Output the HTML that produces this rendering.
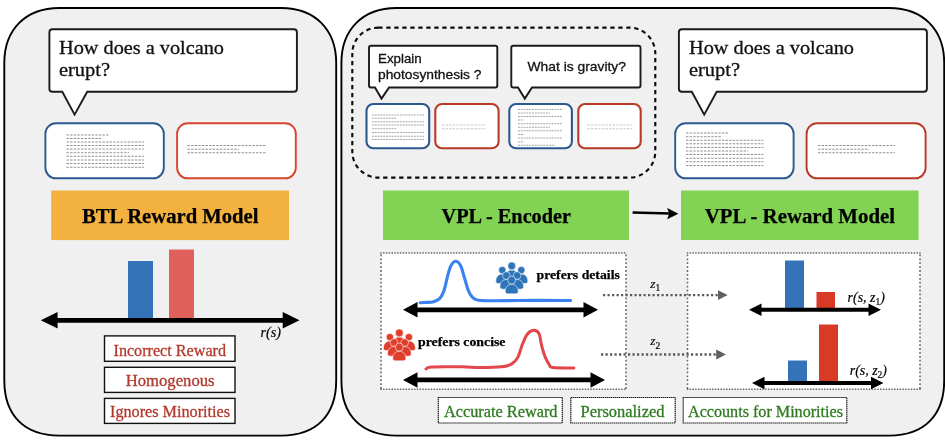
<!DOCTYPE html>
<html lang="en">
<head>
<meta charset="utf-8">
<title>VPL overview diagram</title>
<style>
html,body{margin:0;padding:0;background:#fff;}
body{width:945px;height:441px;overflow:hidden;}
svg{display:block;will-change:transform;}
text{font-family:"Liberation Serif","DejaVu Serif",serif;fill:#111;stroke:#111;stroke-width:0.3px;stroke-linejoin:round;}
.red{fill:#b2392b;stroke:#b2392b;}
.grn{fill:#2e7a20;stroke:#2e7a20;}
.sans{font-family:"Liberation Sans","DejaVu Sans",sans-serif;}
.b{font-weight:bold;fill:#000;stroke:#000;stroke-width:0.25px;}
.i{font-style:italic;fill:#000;stroke:#000;stroke-width:0.18px;}
</style>
</head>
<body>
<svg width="945" height="441" viewBox="0 0 945 441">
<rect width="945" height="441" fill="#fff"/>

<path d="M59.30,8.00 H281.20 C314.75,8.00 336.20,29.45 336.20,63.00 V380.60 C336.20,415.53 316.12,435.60 281.20,435.60 H59.30 C24.38,435.60 4.30,415.53 4.30,380.60 V63.00 C4.30,29.45 25.75,8.00 59.30,8.00 Z" fill="#f0f0f0" stroke="#000" stroke-width="1.9"/>
<path d="M396.40,8.00 H889.20 C922.75,8.00 944.20,29.45 944.20,63.00 V380.60 C944.20,415.53 924.12,435.60 889.20,435.60 H396.40 C361.47,435.60 341.40,415.53 341.40,380.60 V63.00 C341.40,29.45 362.85,8.00 396.40,8.00 Z" fill="#f0f0f0" stroke="#000" stroke-width="1.9"/>
<path d="M52.4,29.2 H293.9 Q296.9,29.2 296.9,32.2 V88.8 Q296.9,91.8 293.9,91.8 H87.2 L74.6,114.6 L62.3,91.8 H52.4 Q49.4,91.8 49.4,88.8 V32.2 Q49.4,29.2 52.4,29.2 Z" fill="#fff" stroke="#1a1a1a" stroke-width="1.9" stroke-linejoin="miter"/>
<text x="59" y="54" font-size="19" textLength="165" lengthAdjust="spacingAndGlyphs">How does a volcano</text>
<text x="59" y="75.6" font-size="19" textLength="51" lengthAdjust="spacingAndGlyphs">erupt?</text>
<rect x="45.4" y="123.3" width="118.4" height="55.000000000000014" rx="10.5" ry="10.5" fill="#fff" stroke="#2b598f" stroke-width="1.9"/>
<g stroke="#909090" stroke-width="1.0" stroke-dasharray="2.4 1.2" fill="none"><line x1="66.5" y1="135" x2="109" y2="135"/><line x1="66.5" y1="138.5" x2="101" y2="138.5"/><line x1="66.5" y1="142" x2="144" y2="142"/><line x1="66.5" y1="145.5" x2="144" y2="145.5"/><line x1="66.5" y1="149" x2="144" y2="149"/><line x1="66.5" y1="152.75" x2="129" y2="152.75"/><line x1="66.5" y1="156.25" x2="144" y2="156.25"/><line x1="66.5" y1="160" x2="144" y2="160"/><line x1="66.5" y1="163.5" x2="144" y2="163.5"/><line x1="66.5" y1="167.25" x2="144" y2="167.25"/></g>
<rect x="177.1" y="123.3" width="118.70000000000002" height="55.000000000000014" rx="10.5" ry="10.5" fill="#fff" stroke="#d9432f" stroke-width="1.9"/>
<g stroke="#909090" stroke-width="1.0" stroke-dasharray="2.4 1.2" fill="none"><line x1="187.5" y1="145.5" x2="265.5" y2="145.5"/><line x1="187.5" y1="149.25" x2="239" y2="149.25"/><line x1="187.5" y1="152.75" x2="265.5" y2="152.75"/></g>
<rect x="51.2" y="190.5" width="237.8" height="49.6" fill="#f3b13f"/>
<text class="b" x="81.9" y="223" font-size="20.5" textLength="176.6" lengthAdjust="spacingAndGlyphs">BTL Reward Model</text>
<rect x="128" y="261" width="25" height="58" fill="#3573b9"/>
<rect x="169" y="249.5" width="25" height="69" fill="#e0605b"/>
<path d="M40.8,320.3 L57.599999999999994,312.1 V317.90000000000003 H282.7 V312.1 L299.5,320.3 L282.7,328.5 V322.7 H57.599999999999994 V328.5 Z" fill="#000"/>
<text class="i" x="260.4" y="336.8" font-size="14" textLength="20.6" lengthAdjust="spacingAndGlyphs">r(s)</text>
<rect x="104.5" y="335.9" width="130.5" height="25.400000000000034" fill="#fff" stroke="#111" stroke-width="1.4"/>
<text x="113.5" y="355.5" font-size="16" class="red" textLength="112.5" lengthAdjust="spacingAndGlyphs">Incorrect Reward</text>
<rect x="104.5" y="367.3" width="130.5" height="25.099999999999966" fill="#fff" stroke="#111" stroke-width="1.4"/>
<text x="125.75" y="386" font-size="16" class="red" textLength="88.75" lengthAdjust="spacingAndGlyphs">Homogenous</text>
<rect x="104.5" y="398.4" width="130.5" height="25.0" fill="#fff" stroke="#111" stroke-width="1.4"/>
<text x="110" y="416.5" font-size="16" class="red" textLength="120" lengthAdjust="spacingAndGlyphs">Ignores Minorities</text>
<rect x="352.3" y="27.6" width="303" height="150" rx="26" ry="26" fill="none" stroke="#0a0a0a" stroke-width="2.1" stroke-dasharray="4.3 3.7"/>
<path d="M371,45.7 H495.3 Q497.3,45.7 497.3,47.7 V85.5 Q497.3,87.5 495.3,87.5 H389 L381.5,98.6 L375,87.5 H371 Q369,87.5 369,85.5 V47.7 Q369,45.7 371,45.7 Z" fill="#fff" stroke="#1a1a1a" stroke-width="1.9" stroke-linejoin="miter"/>
<text class="sans" x="378" y="63.2" font-size="13.2" textLength="43.7" lengthAdjust="spacingAndGlyphs">Explain</text>
<text class="sans" x="378" y="79" font-size="13.2" textLength="103.5" lengthAdjust="spacingAndGlyphs">photosynthesis ?</text>
<path d="M513.3,45.7 H638.5 Q640.5,45.7 640.5,47.7 V85.5 Q640.5,87.5 638.5,87.5 H532 L524.8,98.6 L518,87.5 H513.3 Q511.3,87.5 511.3,85.5 V47.7 Q511.3,45.7 513.3,45.7 Z" fill="#fff" stroke="#1a1a1a" stroke-width="1.9" stroke-linejoin="miter"/>
<text class="sans" x="527.5" y="71" font-size="13.2" textLength="98.5" lengthAdjust="spacingAndGlyphs">What is gravity?</text>
<rect x="366.5" y="104" width="62.69999999999999" height="44.19999999999999" rx="6.8" ry="6.8" fill="#fff" stroke="#2b598f" stroke-width="2.1"/>
<g stroke="#a4a4a4" stroke-width="1.0" stroke-dasharray="1.9 0.9" fill="none"><line x1="372" y1="115" x2="424" y2="115"/><line x1="372" y1="118.25" x2="397" y2="118.25"/><line x1="372" y1="121.75" x2="424" y2="121.75"/><line x1="372" y1="125" x2="424" y2="125"/><line x1="372" y1="128.75" x2="397" y2="128.75"/><line x1="372" y1="132.5" x2="424" y2="132.5"/><line x1="372" y1="136.25" x2="424" y2="136.25"/><line x1="372" y1="139.5" x2="424" y2="139.5"/></g>
<rect x="435.3" y="104" width="63.30000000000001" height="44.19999999999999" rx="6.8" ry="6.8" fill="#fff" stroke="#b83a26" stroke-width="2.1"/>
<g stroke="#c4c4c4" stroke-width="1.0" stroke-dasharray="2.4 1.2" fill="none"><line x1="442" y1="125" x2="486" y2="125"/><line x1="442" y1="128.75" x2="486" y2="128.75"/></g>
<rect x="509.3" y="104" width="62.599999999999966" height="44.19999999999999" rx="6.8" ry="6.8" fill="#fff" stroke="#2b598f" stroke-width="2.1"/>
<g stroke="#a4a4a4" stroke-width="1.0" stroke-dasharray="1.9 0.9" fill="none"><line x1="518" y1="109.5" x2="562" y2="109.5"/><line x1="518" y1="113" x2="550" y2="113"/><line x1="518" y1="116.5" x2="562" y2="116.5"/><line x1="518" y1="120" x2="524" y2="120"/><line x1="518" y1="123.75" x2="562" y2="123.75"/><line x1="518" y1="127.25" x2="550" y2="127.25"/><line x1="518" y1="130.75" x2="562" y2="130.75"/><line x1="518" y1="134.5" x2="524" y2="134.5"/><line x1="518" y1="138" x2="562" y2="138"/><line x1="518" y1="141.75" x2="524" y2="141.75"/><line x1="518" y1="145.25" x2="555" y2="145.25"/></g>
<rect x="578.3" y="104" width="62.40000000000009" height="44.19999999999999" rx="6.8" ry="6.8" fill="#fff" stroke="#b83a26" stroke-width="2.1"/>
<g stroke="#c4c4c4" stroke-width="1.0" stroke-dasharray="2.4 1.2" fill="none"><line x1="587.5" y1="125" x2="632" y2="125"/><line x1="587.5" y1="128.75" x2="632" y2="128.75"/></g>
<path d="M681.9,29.2 H923.9 Q926.9,29.2 926.9,32.2 V88.8 Q926.9,91.8 923.9,91.8 H716.7 L704.2,114.6 L691.8,91.8 H681.9 Q678.9,91.8 678.9,88.8 V32.2 Q678.9,29.2 681.9,29.2 Z" fill="#fff" stroke="#1a1a1a" stroke-width="1.9" stroke-linejoin="miter"/>
<text x="689" y="54" font-size="19" textLength="165" lengthAdjust="spacingAndGlyphs">How does a volcano</text>
<text x="689" y="75.6" font-size="19" textLength="51" lengthAdjust="spacingAndGlyphs">erupt?</text>
<rect x="675.2" y="123.3" width="118.39999999999998" height="55.000000000000014" rx="10.5" ry="10.5" fill="#fff" stroke="#2b598f" stroke-width="1.9"/>
<g stroke="#909090" stroke-width="1.0" stroke-dasharray="2.4 1.2" fill="none"><line x1="686" y1="133" x2="728.5" y2="133"/><line x1="686" y1="136.75" x2="721.5" y2="136.75"/><line x1="686" y1="140.25" x2="763.5" y2="140.25"/><line x1="686" y1="143.75" x2="763.5" y2="143.75"/><line x1="686" y1="147.5" x2="763.5" y2="147.5"/><line x1="686" y1="151" x2="748" y2="151"/><line x1="686" y1="154.5" x2="763.5" y2="154.5"/><line x1="686" y1="158.25" x2="763.5" y2="158.25"/><line x1="686" y1="161.75" x2="763.5" y2="161.75"/><line x1="686" y1="165.5" x2="763.5" y2="165.5"/></g>
<rect x="806.6" y="123.3" width="119.0" height="55.000000000000014" rx="10.5" ry="10.5" fill="#fff" stroke="#b83a26" stroke-width="1.9"/>
<g stroke="#909090" stroke-width="1.0" stroke-dasharray="2.4 1.2" fill="none"><line x1="818" y1="145.5" x2="895" y2="145.5"/><line x1="818" y1="149.25" x2="869" y2="149.25"/><line x1="818" y1="152.75" x2="895" y2="152.75"/></g>
<rect x="383" y="190.5" width="246" height="49.5" fill="#82d353"/>
<text class="b" x="441.6" y="223" font-size="20.5" textLength="129.4" lengthAdjust="spacingAndGlyphs">VPL - Encoder</text>
<rect x="681" y="190.5" width="237.5" height="49.5" fill="#82d353"/>
<text class="b" x="704.8" y="223" font-size="20.5" textLength="190.2" lengthAdjust="spacingAndGlyphs">VPL - Reward Model</text>
<path d="M632.6,212.6 L670,213.5" stroke="#000" stroke-width="2.5" fill="none"/><path d="M677.8,213.7 L667.6,208.5 L669.6,213.6 L667.6,218.7 Z" fill="#000" stroke="#000" stroke-width="0.6" stroke-linejoin="round"/>
<rect x="381" y="253" width="245" height="136.2" fill="#fff"/><g stroke="#6a6a6a" stroke-width="1.6" fill="none"><path d="M380.3,253 H626.7 M380.3,389.2 H626.7" stroke-dasharray="1.5 1.3"/><path d="M381,254.5 V389.2 M626,254.5 V389.2" stroke-dasharray="1.8 2.1"/></g>
<rect x="687.5" y="253" width="232.5" height="136.2" fill="#fff"/><g stroke="#6a6a6a" stroke-width="1.6" fill="none"><path d="M686.8,253 H920.7 M686.8,389.2 H920.7" stroke-dasharray="1.5 1.3"/><path d="M687.5,254.5 V389.2 M920,254.5 V389.2" stroke-dasharray="1.8 2.1"/></g>
<path d="M403,309.8 L417.5,302.05 V307.40000000000003 H583.5 V302.05 L598,309.8 L583.5,317.55 V312.2 H417.5 V317.55 Z" fill="#000"/>
<path d="M403,379.9 L417.5,372.15 V377.5 H590.5 V372.15 L605,379.9 L590.5,387.65 V382.29999999999995 H417.5 V387.65 Z" fill="#000"/>
<path d="M420.1,302.7 C421.1,302.6 423.9,302.5 426.0,302.4 C428.1,302.3 430.5,302.5 432.8,301.9 C435.1,301.3 437.8,300.4 439.6,298.6 C441.5,296.8 442.6,294.4 443.9,290.9 C445.2,287.3 446.2,281.4 447.3,277.3 C448.4,273.2 449.3,268.9 450.7,266.2 C452.1,263.5 454.1,261.2 455.8,261.2 C457.5,261.2 459.5,263.5 460.9,266.2 C462.3,268.9 463.0,273.2 464.3,277.3 C465.6,281.4 467.1,287.5 468.5,290.9 C469.9,294.3 471.1,296.1 472.8,297.7 C474.5,299.3 475.2,299.8 478.7,300.3 C482.2,300.8 484.6,300.8 494.0,300.8 C503.4,300.8 522.1,300.4 534.9,300.4 C547.7,300.3 564.6,300.5 570.6,300.5" fill="none" stroke="#3b82f0" stroke-width="3.1" stroke-linecap="round" stroke-linejoin="round"/>
<path d="M426.0,369.0 C427.0,368.6 425.8,367.3 431.9,366.9 C438.0,366.5 454.6,366.7 462.5,366.8 C470.4,366.9 473.0,367.5 479.5,367.5 C486.0,367.5 496.2,367.4 501.6,366.8 C507.0,366.2 509.1,365.5 511.8,363.9 C514.5,362.3 516.1,360.5 517.8,357.4 C519.5,354.3 520.5,349.3 522.0,345.5 C523.5,341.7 525.2,337.0 527.1,334.5 C529.0,332.0 531.6,330.4 533.6,330.3 C535.6,330.2 537.7,331.1 539.0,333.6 C540.3,336.1 540.6,341.7 541.6,345.5 C542.6,349.3 543.7,353.4 545.0,356.6 C546.3,359.8 548.0,362.8 549.3,364.6 C550.6,366.4 548.6,366.9 552.7,367.5 C556.8,368.1 570.4,367.8 573.9,367.9" fill="none" stroke="#e2474e" stroke-width="3" stroke-linecap="round" stroke-linejoin="round"/>
<g fill="#2f74b9" stroke="#fff" stroke-width="0.55"><path d="M505.20,277.25 C505.20,273.05 507.67,270.05 511.70,270.05 C515.73,270.05 518.20,273.05 518.20,277.25 C518.20,279.05 516.90,279.65 515.27,279.65 H508.12 C506.50,279.65 505.20,279.05 505.20,277.25 Z"/><circle cx="511.70" cy="265.90" r="3.95"/><path d="M495.80,281.20 C495.80,277.00 498.27,274.00 502.30,274.00 C506.33,274.00 508.80,277.00 508.80,281.20 C508.80,283.00 507.50,283.60 505.88,283.60 H498.73 C497.10,283.60 495.80,283.00 495.80,281.20 Z"/><circle cx="502.30" cy="270.10" r="3.7"/><path d="M514.80,281.20 C514.80,277.00 517.27,274.00 521.30,274.00 C525.33,274.00 527.80,277.00 527.80,281.20 C527.80,283.00 526.50,283.60 524.88,283.60 H517.72 C516.10,283.60 514.80,283.00 514.80,281.20 Z"/><circle cx="521.30" cy="270.10" r="3.7"/><path d="M499.90,286.75 C499.90,282.55 502.37,279.55 506.40,279.55 C510.43,279.55 512.90,282.55 512.90,286.75 C512.90,288.55 511.60,289.15 509.97,289.15 H502.82 C501.20,289.15 499.90,288.55 499.90,286.75 Z"/><circle cx="506.40" cy="275.50" r="3.85"/><path d="M510.60,286.75 C510.60,282.55 513.07,279.55 517.10,279.55 C521.13,279.55 523.60,282.55 523.60,286.75 C523.60,288.55 522.30,289.15 520.68,289.15 H513.52 C511.90,289.15 510.60,288.55 510.60,286.75 Z"/><circle cx="517.10" cy="275.50" r="3.85"/><path d="M505.20,291.45 C505.20,287.25 507.67,284.25 511.70,284.25 C515.73,284.25 518.20,287.25 518.20,291.45 C518.20,293.25 516.90,293.85 515.27,293.85 H508.12 C506.50,293.85 505.20,293.25 505.20,291.45 Z"/><circle cx="511.70" cy="280.10" r="3.95"/></g>
<g fill="#e03e2d" stroke="#fff" stroke-width="0.55"><path d="M392.80,344.25 C392.80,340.05 395.27,337.05 399.30,337.05 C403.33,337.05 405.80,340.05 405.80,344.25 C405.80,346.05 404.50,346.65 402.88,346.65 H395.73 C394.10,346.65 392.80,346.05 392.80,344.25 Z"/><circle cx="399.30" cy="332.90" r="3.95"/><path d="M383.40,348.20 C383.40,344.00 385.87,341.00 389.90,341.00 C393.93,341.00 396.40,344.00 396.40,348.20 C396.40,350.00 395.10,350.60 393.48,350.60 H386.33 C384.70,350.60 383.40,350.00 383.40,348.20 Z"/><circle cx="389.90" cy="337.10" r="3.7"/><path d="M402.40,348.20 C402.40,344.00 404.87,341.00 408.90,341.00 C412.93,341.00 415.40,344.00 415.40,348.20 C415.40,350.00 414.10,350.60 412.48,350.60 H405.33 C403.70,350.60 402.40,350.00 402.40,348.20 Z"/><circle cx="408.90" cy="337.10" r="3.7"/><path d="M387.50,353.75 C387.50,349.55 389.97,346.55 394.00,346.55 C398.03,346.55 400.50,349.55 400.50,353.75 C400.50,355.55 399.20,356.15 397.57,356.15 H390.43 C388.80,356.15 387.50,355.55 387.50,353.75 Z"/><circle cx="394.00" cy="342.50" r="3.85"/><path d="M398.20,353.75 C398.20,349.55 400.67,346.55 404.70,346.55 C408.73,346.55 411.20,349.55 411.20,353.75 C411.20,355.55 409.90,356.15 408.28,356.15 H401.13 C399.50,356.15 398.20,355.55 398.20,353.75 Z"/><circle cx="404.70" cy="342.50" r="3.85"/><path d="M392.80,358.45 C392.80,354.25 395.27,351.25 399.30,351.25 C403.33,351.25 405.80,354.25 405.80,358.45 C405.80,360.25 404.50,360.85 402.88,360.85 H395.73 C394.10,360.85 392.80,360.25 392.80,358.45 Z"/><circle cx="399.30" cy="347.10" r="3.95"/></g>
<text class="b" x="536.5" y="279" font-size="13.5" textLength="83.3" lengthAdjust="spacingAndGlyphs">prefers details</text>
<text class="b" x="418" y="346" font-size="13.5" textLength="87.5" lengthAdjust="spacingAndGlyphs">prefers concise</text>
<path d="M603,295.1 H718" stroke="#5a5a5a" stroke-width="2.3" stroke-dasharray="2.2 2.3" fill="none"/>
<path d="M727.7,295.1 L718,290.20000000000005 V300.0 Z" fill="#606060"/>
<path d="M601,354.5 H716.2" stroke="#5a5a5a" stroke-width="2.3" stroke-dasharray="2.2 2.3" fill="none"/>
<path d="M725.9000000000001,354.5 L716.2,349.6 V359.4 Z" fill="#606060"/>
<text class="i" x="650.2" y="287.8" font-size="13.5">z<tspan font-size="9.5" dy="3.3" style="font-style:normal">1</tspan></text>
<text class="i" x="650.2" y="345.3" font-size="13.5">z<tspan font-size="9.5" dy="3.3" style="font-style:normal">2</tspan></text>
<rect x="785" y="260.5" width="19" height="48" fill="#3573b9"/>
<rect x="816.5" y="292" width="18.5" height="16.5" fill="#d93a26"/>
<path d="M749,309.8 L761.5,303.55 V307.8 H868.5 V303.55 L881,309.8 L868.5,316.05 V311.8 H761.5 V316.05 Z" fill="#000"/>
<rect x="788" y="360.5" width="19" height="21" fill="#3573b9"/>
<rect x="819" y="324.5" width="19" height="57" fill="#d93a26"/>
<path d="M752,383 L764.5,376.75 V381.0 H871.0 V376.75 L883.5,383 L871.0,389.25 V385.0 H764.5 V389.25 Z" fill="#000"/>
<text class="i" x="847.6" y="301.6" font-size="13.9">r(s, z<tspan font-size="9.5" dy="3.3" style="font-style:normal">1</tspan><tspan dy="-3.3">)</tspan></text>
<text class="i" x="849.8" y="375.1" font-size="13.9">r(s, z<tspan font-size="9.5" dy="3.3" style="font-style:normal">2</tspan><tspan dy="-3.3">)</tspan></text>
<rect x="438.3" y="397.5" width="123.99999999999994" height="25.5" fill="#fff" stroke="#1c1c1c" stroke-width="1.15" stroke-dasharray="1.5 0.5"/>
<text x="444" y="417" font-size="16" class="grn" textLength="113.5" lengthAdjust="spacingAndGlyphs">Accurate Reward</text>
<rect x="570.8" y="397.5" width="104.40000000000009" height="25.5" fill="#fff" stroke="#1c1c1c" stroke-width="1.15" stroke-dasharray="1.5 0.5"/>
<text x="580.5" y="417" font-size="16" class="grn" textLength="84.0" lengthAdjust="spacingAndGlyphs">Personalized</text>
<rect x="683.2" y="397.5" width="163.5999999999999" height="25.5" fill="#fff" stroke="#1c1c1c" stroke-width="1.15" stroke-dasharray="1.5 0.5"/>
<text x="688" y="417" font-size="16" class="grn" textLength="155" lengthAdjust="spacingAndGlyphs">Accounts for Minorities</text>
</svg>
</body>
</html>
